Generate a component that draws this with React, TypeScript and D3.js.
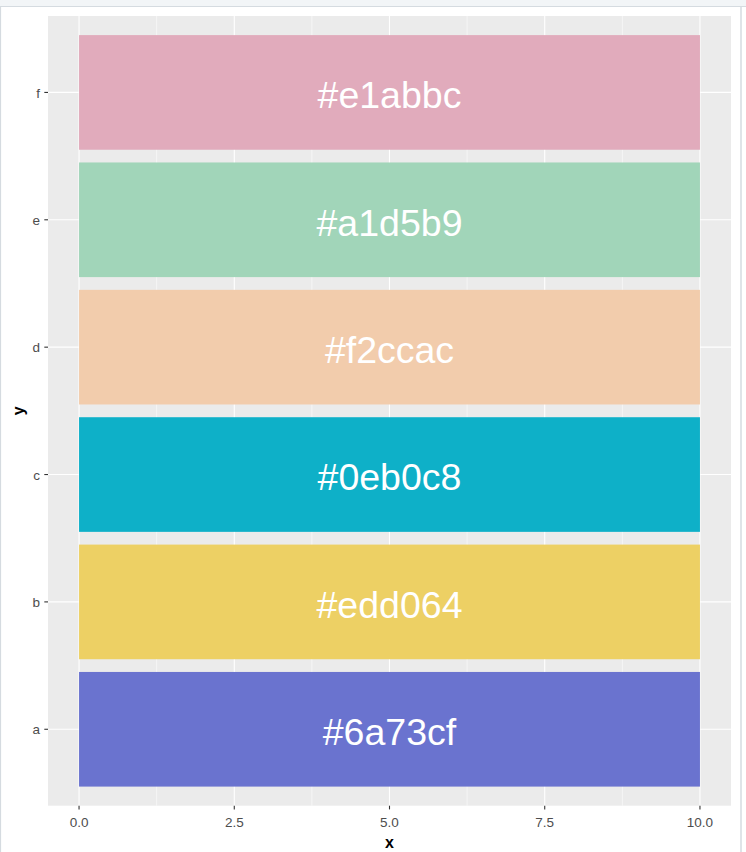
import { useEffect, useRef } from "react";
import * as d3 from "d3";

const categories = ["a", "b", "c", "d", "e", "f"];
const values = [10, 10, 10, 10, 10, 10];
const colors = ["#6a73cf", "#edd064", "#0eb0c8", "#f2ccac", "#a1d5b9", "#e1abbc"];
const xTicks = [0, 2.5, 5, 7.5, 10];
const xMinor = [1.25, 3.75, 6.25, 8.75];

const W = 746;
const H = 852;

const App = () => {
  const svgRef = useRef<SVGSVGElement | null>(null);

  useEffect(() => {
    if (!svgRef.current) return;
    const svg = d3.select(svgRef.current);
    svg.selectAll("*").remove();

    // window frame around the screenshot
    svg.append("rect").attr("width", W).attr("height", H).attr("fill", "#ffffff");
    svg.append("rect").attr("width", W).attr("height", 6).attr("fill", "#f2f5f7");
    svg.append("line").attr("x1", 0).attr("x2", W).attr("y1", 6.5).attr("y2", 6.5)
      .attr("stroke", "#d5dbe0").attr("stroke-width", 1);
    svg.append("line").attr("x1", 0.5).attr("x2", 0.5).attr("y1", 6).attr("y2", H)
      .attr("stroke", "#d5dbe0").attr("stroke-width", 1.2);
    svg.append("line").attr("x1", 741).attr("x2", 741).attr("y1", 6).attr("y2", H)
      .attr("stroke", "#d5dbe0").attr("stroke-width", 1.5);

    const panel = { left: 48, right: 731, top: 16, bottom: 805.7 };

    const x = d3.scaleLinear().domain([-0.5, 10.5]).range([panel.left, panel.right]);
    const y = d3.scaleLinear().domain([0.4, 6.6]).range([panel.bottom, panel.top]);

    svg.append("rect")
      .attr("x", panel.left).attr("y", panel.top)
      .attr("width", panel.right - panel.left).attr("height", panel.bottom - panel.top)
      .attr("fill", "#ebebeb");

    const g = svg.append("g");

    // minor grid
    g.selectAll("line.minor").data(xMinor).join("line")
      .attr("x1", (d) => x(d)).attr("x2", (d) => x(d))
      .attr("y1", panel.top).attr("y2", panel.bottom)
      .attr("stroke", "#ffffff").attr("stroke-width", 0.55);

    // major grid
    g.selectAll("line.majx").data(xTicks).join("line")
      .attr("x1", (d) => x(d)).attr("x2", (d) => x(d))
      .attr("y1", panel.top).attr("y2", panel.bottom)
      .attr("stroke", "#ffffff").attr("stroke-width", 1.1);
    g.selectAll("line.majy").data(categories).join("line")
      .attr("x1", panel.left).attr("x2", panel.right)
      .attr("y1", (_, i) => y(i + 1)).attr("y2", (_, i) => y(i + 1))
      .attr("stroke", "#ffffff").attr("stroke-width", 1.1);

    // bars
    g.selectAll("rect.bar").data(categories).join("rect")
      .attr("x", x(0))
      .attr("y", (_, i) => y(i + 1.45))
      .attr("width", (_, i) => x(values[i]) - x(0))
      .attr("height", (_, i) => y(i + 0.55) - y(i + 1.45))
      .attr("fill", (_, i) => colors[i]);

    // labels
    g.selectAll("text.lab").data(categories).join("text")
      .attr("x", (_, i) => x(values[i] / 2))
      .attr("y", (_, i) => y(i + 1))
      .attr("dy", "0.42em")
      .attr("text-anchor", "middle")
      .attr("fill", "#ffffff")
      .attr("font-family", "'Liberation Sans', Arial, sans-serif")
      .attr("font-size", 37.5)
      .text((_, i) => colors[i]);

    // x axis
    const xa = svg.append("g");
    xa.selectAll("line").data(xTicks).join("line")
      .attr("x1", (d) => x(d)).attr("x2", (d) => x(d))
      .attr("y1", panel.bottom).attr("y2", panel.bottom + 3.7)
      .attr("stroke", "#333333").attr("stroke-width", 1.1);
    xa.selectAll("text").data(xTicks).join("text")
      .attr("x", (d) => x(d)).attr("y", panel.bottom + 21.5)
      .attr("text-anchor", "middle")
      .attr("fill", "#4d4d4d")
      .attr("font-family", "'Liberation Sans', Arial, sans-serif")
      .attr("font-size", 13.5)
      .text((d) => d3.format(".1f")(d));

    // y axis
    const ya = svg.append("g");
    ya.selectAll("line").data(categories).join("line")
      .attr("x1", panel.left - 3.7).attr("x2", panel.left)
      .attr("y1", (_, i) => y(i + 1)).attr("y2", (_, i) => y(i + 1))
      .attr("stroke", "#333333").attr("stroke-width", 1.1);
    ya.selectAll("text").data(categories).join("text")
      .attr("x", panel.left - 8).attr("y", (_, i) => y(i + 1))
      .attr("dy", "0.38em")
      .attr("text-anchor", "end")
      .attr("fill", "#4d4d4d")
      .attr("font-family", "'Liberation Sans', Arial, sans-serif")
      .attr("font-size", 13.5)
      .text((d) => d);

    svg.append("text")
      .attr("x", x(5)).attr("y", 848)
      .attr("text-anchor", "middle")
      .attr("font-family", "'Liberation Sans', Arial, sans-serif")
      .attr("font-weight", "bold")
      .attr("font-size", 16)
      .attr("fill", "#000000")
      .text("x");

    svg.append("text")
      .attr("transform", `translate(24, ${(panel.top + panel.bottom) / 2}) rotate(-90)`)
      .attr("text-anchor", "middle")
      .attr("font-family", "'Liberation Sans', Arial, sans-serif")
      .attr("font-weight", "bold")
      .attr("font-size", 16)
      .attr("fill", "#000000")
      .text("y");
  }, []);

  return (
    <svg
      ref={svgRef}
      width={W}
      height={H}
      style={{ position: "absolute", left: 0, top: 0, display: "block" }}
    />
  );
};

export default App;
